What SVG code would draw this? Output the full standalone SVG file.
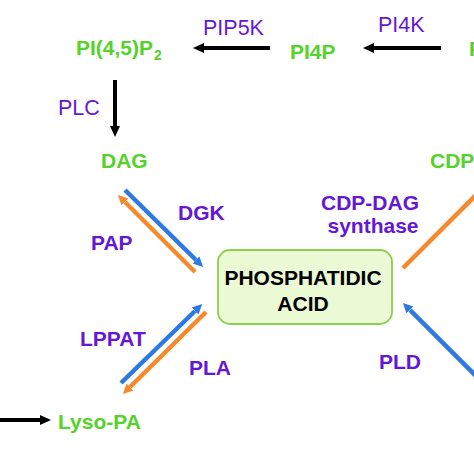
<svg xmlns="http://www.w3.org/2000/svg" width="474" height="474" viewBox="0 0 474 474">
<defs>
<style>
text{font-family:"Liberation Sans",Arial,sans-serif;}
.g{fill:#55d22b;font-weight:bold;font-size:21px;}
.pb{fill:#6418d6;font-weight:bold;font-size:21px;}
.pr{fill:#6418d6;font-size:21.5px;}
.k{fill:#000;font-weight:bold;font-size:21px;}
.lk{stroke:#000;stroke-width:4;fill:none;}
.lb{stroke:#2c79e3;stroke-width:4.5;fill:none;}
.lo{stroke:#f5892b;stroke-width:4.5;fill:none;}
</style>
<marker id="hk" markerUnits="userSpaceOnUse" markerWidth="12" markerHeight="12" viewBox="0 0 12 12" refX="0" refY="6" orient="auto"><path d="M0,1 L11,6 L0,11 z" fill="#000"/></marker>
<marker id="hb" markerUnits="userSpaceOnUse" markerWidth="12" markerHeight="12" viewBox="0 0 12 12" refX="0" refY="6" orient="auto"><path d="M0,1 L10,6 L0,11 z" fill="#2c79e3"/></marker>
<marker id="ho" markerUnits="userSpaceOnUse" markerWidth="12" markerHeight="12" viewBox="0 0 12 12" refX="0" refY="6" orient="auto"><path d="M0,1 L10,6 L0,11 z" fill="#f5892b"/></marker>
</defs>
<rect width="474" height="474" fill="#fff"/>
<g id="connectors">
<line class="lk" x1="270" y1="48" x2="204" y2="48" marker-end="url(#hk)"/>
<line class="lk" x1="441" y1="48" x2="374" y2="48" marker-end="url(#hk)"/>
<line class="lk" x1="115" y1="80" x2="115" y2="126" marker-end="url(#hk)"/>
<line class="lk" x1="-5" y1="420" x2="40" y2="420" marker-end="url(#hk)"/>
<line class="lb" x1="125" y1="190" x2="196" y2="260" marker-end="url(#hb)"/>
<line class="lo" x1="195" y1="272" x2="125" y2="202" marker-end="url(#ho)"/>
<line class="lb" x1="121" y1="383" x2="195" y2="311" marker-end="url(#hb)"/>
<line class="lo" x1="206" y1="312" x2="130" y2="387" marker-end="url(#ho)"/>
<line class="lb" x1="482" y1="382" x2="410" y2="310" marker-end="url(#hb)"/>
<line class="lo" x1="403" y1="268" x2="482" y2="189"/>
</g>
<g id="pa">
<rect x="218" y="250" width="174" height="74" rx="12" fill="#ebfad5" stroke="#8ccf4c" stroke-width="1.8"/>
<text class="k" x="303" y="285" text-anchor="middle">PHOSPHATIDIC</text>
<text class="k" x="303" y="311" text-anchor="middle">ACID</text>
</g>
<g id="pip2"><text class="g" x="76" y="55">PI(4,5)P</text><text class="g" x="154" y="60" style="font-size:14px">2</text></g>
<g id="pi4p"><text class="g" x="290" y="59">PI4P</text></g>
<g id="pi"><text class="g" x="469" y="56">PI</text></g>
<g id="dag"><text class="g" x="101" y="168">DAG</text></g>
<g id="cdpdag"><text class="g" x="430" y="168">CDP-DAG</text></g>
<g id="lysopa"><text class="g" x="58" y="429">Lyso-PA</text></g>
<g id="labels">
<text class="pr" x="203" y="35">PIP5K</text>
<text class="pr" x="378" y="32">PI4K</text>
<text class="pr" x="58" y="115">PLC</text>
<text class="pb" x="178" y="220">DGK</text>
<text class="pb" x="91" y="250">PAP</text>
<text class="pb" x="370" y="210" text-anchor="middle">CDP-DAG</text>
<text class="pb" x="373" y="233" text-anchor="middle">synthase</text>
<text class="pb" x="80" y="346">LPPAT</text>
<text class="pb" x="189" y="375">PLA</text>
<text class="pb" x="379" y="369">PLD</text>
</g>
</svg>
